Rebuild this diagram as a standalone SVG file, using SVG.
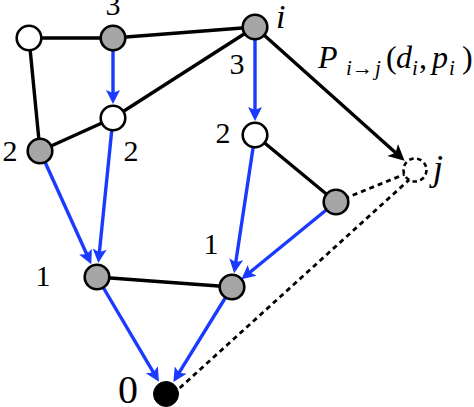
<svg xmlns="http://www.w3.org/2000/svg" width="474" height="407" viewBox="0 0 474 407">
<style>
.e{stroke:#000;stroke-width:3.4;fill:none;stroke-linecap:round}
.b{stroke:#1a3bff;stroke-width:3.4;fill:none}
.d{stroke:#000;stroke-width:2.8;fill:none;stroke-dasharray:5 4}
.ng{fill:#a6a6a6;stroke:#000;stroke-width:2.6}
.nw{fill:#fff;stroke:#000;stroke-width:2.6}
.nb{fill:#000;stroke:#000;stroke-width:1}
.nd{fill:#fff;stroke:#000;stroke-width:2.6;stroke-dasharray:4.5 3.5}
</style>
<defs>
<marker id="ab" markerUnits="userSpaceOnUse" orient="auto" refX="0" refY="0" markerWidth="20" markerHeight="20" overflow="visible">
<path d="M6,0 L-8,-7 L-5,0 L-8,7 Z" fill="#1a3bff"/>
</marker>
<marker id="ak" markerUnits="userSpaceOnUse" orient="auto" refX="0" refY="0" markerWidth="20" markerHeight="20" overflow="visible">
<path d="M6,0 L-10,-8 L-6,0 L-10,8 Z" fill="#000"/>
</marker>
</defs>
<g id="connectors">
<line class="e" x1="29" y1="38" x2="113" y2="38"/>
<line class="e" x1="113" y1="38" x2="255" y2="27"/>
<line class="e" x1="29" y1="38" x2="40" y2="151"/>
<line class="e" x1="40" y1="151" x2="113" y2="118"/>
<line class="e" x1="113" y1="118" x2="255" y2="27"/>
<line class="e" x1="255" y1="135" x2="336" y2="202"/>
<line class="e" x1="97" y1="277" x2="232" y2="287"/>
<line class="e" x1="255" y1="27" x2="400.1" y2="156.7" marker-end="url(#ak)"/>
<line class="d" x1="336" y1="202" x2="415" y2="170"/>
<line class="d" x1="410" y1="179" x2="172" y2="395"/>
<line class="b" x1="113" y1="38" x2="113" y2="98" marker-end="url(#ab)"/>
<line class="b" x1="255" y1="27" x2="255" y2="115" marker-end="url(#ab)"/>
<line class="b" x1="40" y1="151" x2="88.8" y2="258.8" marker-end="url(#ab)"/>
<line class="b" x1="113" y1="118" x2="98.9" y2="257.1" marker-end="url(#ab)"/>
<line class="b" x1="255" y1="135" x2="235" y2="267.2" marker-end="url(#ab)"/>
<line class="b" x1="336" y1="202" x2="246" y2="275.5" marker-end="url(#ab)"/>
<line class="b" x1="97" y1="277" x2="155.9" y2="376.7" marker-end="url(#ab)"/>
<line class="b" x1="232" y1="287" x2="176.5" y2="376.9" marker-end="url(#ab)"/>
</g>
<g font-family="Liberation Serif, serif" font-size="30" fill="#000">
<g id="nA"><circle class="nw" cx="29" cy="38" r="12.3"/></g>
<g id="nB"><circle class="ng" cx="113" cy="38" r="12.3"/><text x="113" y="15" text-anchor="middle">3</text></g>
<g id="nC"><circle class="nw" cx="113" cy="118" r="12.3"/><text x="131" y="161" text-anchor="middle">2</text></g>
<g id="nD"><circle class="ng" cx="40" cy="151" r="12.3"/><text x="10" y="161" text-anchor="middle">2</text></g>
<g id="ni"><circle class="ng" cx="255" cy="27" r="12.3"/><text x="276" y="28" font-style="italic" font-size="34">i</text><text x="237" y="74" text-anchor="middle">3</text></g>
<g id="nW"><circle class="nw" cx="255" cy="135" r="12.3"/><text x="223" y="143" text-anchor="middle">2</text></g>
<g id="nG"><circle class="ng" cx="336" cy="202" r="12.3"/></g>
<g id="nj"><circle class="nd" cx="415" cy="170" r="11.5"/><text x="433" y="180" font-style="italic" font-size="36">j</text></g>
<g id="nE"><circle class="ng" cx="97" cy="277" r="12.3"/><text x="43" y="286" text-anchor="middle">1</text></g>
<g id="nF"><circle class="ng" cx="232" cy="287" r="12.3"/><text x="211" y="254" text-anchor="middle">1</text></g>
<g id="nZ"><circle class="nb" cx="166" cy="394" r="12.5"/><text x="128" y="403" text-anchor="middle" font-size="40">0</text></g>
<g id="label">
<text font-size="32"><tspan font-style="italic" x="318" y="68">P</tspan><tspan font-style="italic" x="346" y="75" font-size="21">i</tspan><tspan x="352" y="75" font-size="21">→</tspan><tspan font-style="italic" x="375" y="75" font-size="21">j</tspan><tspan x="386" y="68">(</tspan><tspan font-style="italic" x="396" y="68">d</tspan><tspan font-style="italic" x="412" y="75" font-size="21">i</tspan><tspan x="419" y="68">,</tspan><tspan font-style="italic" x="432" y="68">p</tspan><tspan font-style="italic" x="449" y="75" font-size="21">i</tspan><tspan x="462" y="68">)</tspan></text>
</g>
</g>
</svg>
